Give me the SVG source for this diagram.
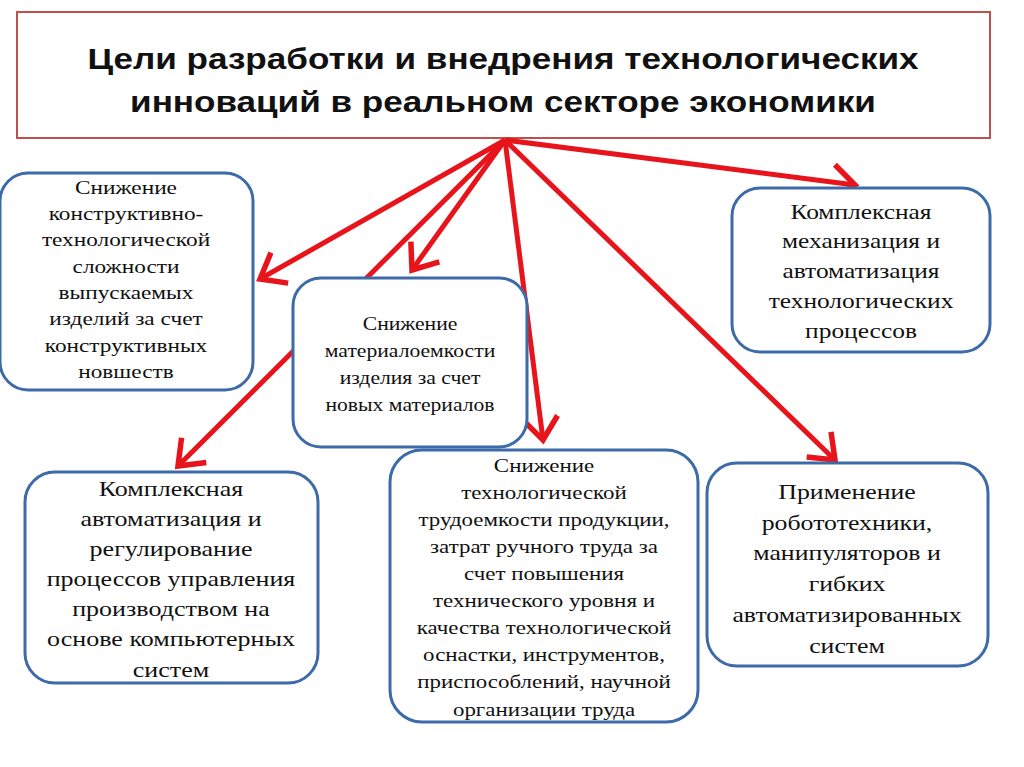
<svg xmlns="http://www.w3.org/2000/svg" width="1024" height="767" viewBox="0 0 1024 767">
<style>
.box{fill:#fff;stroke:#3d6aa8;stroke-width:3}
.t{font-family:"Liberation Serif",serif;fill:#111;text-anchor:middle}
.h{font-family:"Liberation Sans",sans-serif;font-weight:bold;font-size:30px;fill:#111;text-anchor:middle}
.s{font-size:18.5px}.m{font-size:21.5px}
.ar{stroke:#e8141b;stroke-width:5;fill:none;marker-end:url(#ah)}
</style>
<defs><marker id="ah" markerWidth="8" markerHeight="8" refX="5" refY="4" orient="auto" markerUnits="strokeWidth"><path d="M0.5,0.5 L5,4 L0.5,7.5" fill="none" stroke="#e8141b" stroke-width="1.1"/></marker></defs>
<rect width="1024" height="767" fill="#fff"/>
<g id="title"><rect x="17" y="12" width="973" height="126" fill="#fff" stroke="#c0504d" stroke-width="2"/>
<text class="h" transform="translate(503,0) scale(1.17,1)"><tspan x="0" y="69">Цели разработки и внедрения технологических</tspan><tspan x="0" y="112">инноваций в реальном секторе экономики</tspan></text></g>
<g id="connectors">
<line class="ar" x1="505" y1="140" x2="260" y2="279"/>
<line class="ar" x1="505" y1="140" x2="412" y2="270"/>
<line class="ar" x1="505" y1="140" x2="178" y2="466"/>
<line class="ar" x1="505" y1="140" x2="543" y2="440"/>
<line class="ar" x1="505" y1="140" x2="855" y2="185"/>
<line class="ar" x1="505" y1="140" x2="835" y2="460"/>
</g>
<g id="n1"><rect class="box" x="0" y="173" width="253" height="217" rx="28"/>
<text class="t s" transform="translate(126,0) scale(1.26,1)"><tspan x="0" y="194">Снижение</tspan><tspan x="0" y="220">конструктивно-</tspan><tspan x="0" y="246">технологической</tspan><tspan x="0" y="273">сложности</tspan><tspan x="0" y="299">выпускаемых</tspan><tspan x="0" y="325">изделий за счет</tspan><tspan x="0" y="352">конструктивных</tspan><tspan x="0" y="378">новшеств</tspan></text></g>
<g id="n2"><rect class="box" x="293" y="278" width="234" height="169" rx="28"/>
<text class="t s" transform="translate(410,0) scale(1.17,1)"><tspan x="0" y="330">Снижение</tspan><tspan x="0" y="357">материалоемкости</tspan><tspan x="0" y="384">изделия за счет</tspan><tspan x="0" y="411">новых материалов</tspan></text></g>
<g id="n3"><rect class="box" x="732" y="188" width="258" height="164" rx="28"/>
<text class="t" font-size="20.5" transform="translate(861,0) scale(1.24,1)"><tspan x="0" y="219">Комплексная</tspan><tspan x="0" y="248">механизация и</tspan><tspan x="0" y="278">автоматизация</tspan><tspan x="0" y="308">технологических</tspan><tspan x="0" y="338">процессов</tspan></text></g>
<g id="n4"><rect class="box" x="25" y="472" width="293" height="211" rx="30"/>
<text class="t m" transform="translate(171,0) scale(1.21,1)"><tspan x="0" y="496">Комплексная</tspan><tspan x="0" y="526">автоматизация и</tspan><tspan x="0" y="556">регулирование</tspan><tspan x="0" y="586">процессов управления</tspan><tspan x="0" y="616">производством на</tspan><tspan x="0" y="646">основе компьютерных</tspan><tspan x="0" y="677">систем</tspan></text></g>
<g id="n5"><rect class="box" x="390" y="450" width="308" height="272" rx="32"/>
<text class="t s" transform="translate(544,0) scale(1.24,1)"><tspan x="0" y="472">Снижение</tspan><tspan x="0" y="499">технологической</tspan><tspan x="0" y="526">трудоемкости продукции,</tspan><tspan x="0" y="553">затрат ручного труда за</tspan><tspan x="0" y="580">счет повышения</tspan><tspan x="0" y="607">технического уровня и</tspan><tspan x="0" y="634">качества технологической</tspan><tspan x="0" y="661">оснастки, инструментов,</tspan><tspan x="0" y="688">приспособлений, научной</tspan><tspan x="0" y="716">организации труда</tspan></text></g>
<g id="n6"><rect class="box" x="707" y="463" width="281" height="203" rx="30"/>
<text class="t m" transform="translate(847,0) scale(1.2,1)"><tspan x="0" y="499">Применение</tspan><tspan x="0" y="530">робототехники,</tspan><tspan x="0" y="560">манипуляторов и</tspan><tspan x="0" y="591">гибких</tspan><tspan x="0" y="622">автоматизированных</tspan><tspan x="0" y="653">систем</tspan></text></g>
</svg>
